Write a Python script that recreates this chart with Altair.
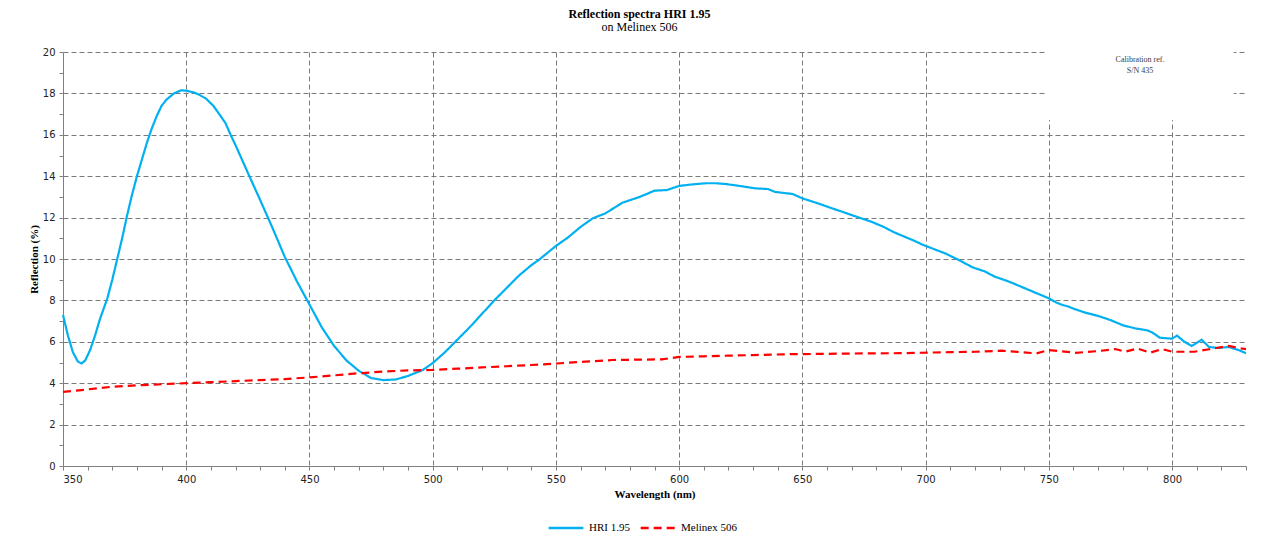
import altair as alt
import pandas as pd

# HRI 1.95 reflection spectrum (wavelength nm, reflection %)
hri_wl = [350, 352, 354, 356, 357.5, 359, 361, 363, 365, 368, 370, 372, 374, 376, 378, 380,
          382, 384, 386, 388, 390, 392, 395, 398, 400, 403, 405, 408, 411, 414, 416, 418, 420,
          423, 426, 430, 435, 440, 445, 450, 455, 460, 465, 470, 475, 480, 485, 490, 496, 500,
          505, 510, 515, 520, 525, 530, 535, 540, 543, 550, 555, 560, 565, 570, 577, 584, 590,
          595, 600, 605, 611, 615, 619, 624, 631, 636, 639, 646, 650, 656, 662, 667, 672, 678,
          683, 687, 692, 695, 699, 704, 708, 713.5, 719, 724, 728, 734, 738, 742, 746, 750, 753,
          755, 758, 760, 765, 770, 775, 780, 785, 790, 792, 795, 800, 802, 805, 808, 812, 815,
          819, 823, 827, 830]
hri_val = [7.3, 6.3, 5.5, 5.05, 4.95, 5.1, 5.6, 6.3, 7.1, 8.1, 9.0, 10.0, 11.0, 12.1, 13.1, 14.0,
           14.8, 15.6, 16.3, 16.9, 17.4, 17.7, 18.0, 18.15, 18.13, 18.05, 17.95, 17.75, 17.4, 16.9,
           16.55, 16.0, 15.5, 14.7, 13.9, 12.85, 11.5, 10.1, 8.9, 7.8, 6.7, 5.8, 5.1, 4.6, 4.25,
           4.15, 4.18, 4.35, 4.64, 4.97, 5.5, 6.1, 6.7, 7.35, 8.0, 8.6, 9.2, 9.7, 9.95, 10.63,
           11.05, 11.55, 11.97, 12.2, 12.72, 13.0, 13.3, 13.33, 13.53, 13.6, 13.66, 13.66, 13.62,
           13.54, 13.41, 13.38, 13.24, 13.14, 12.93, 12.7, 12.45, 12.25, 12.04, 11.8, 11.55, 11.3,
           11.05, 10.9, 10.68, 10.45, 10.27, 9.95, 9.6, 9.4, 9.15, 8.9, 8.7, 8.5, 8.3, 8.1, 7.9,
           7.8, 7.7, 7.6, 7.4, 7.25, 7.05, 6.8, 6.65, 6.55, 6.45, 6.2, 6.15, 6.3, 6.0, 5.8, 6.1,
           5.75, 5.7, 5.75, 5.6, 5.45]

# Melinex 506 reflection spectrum
mel_wl = [350, 360, 370, 380, 390, 400, 410, 420, 430, 440, 450, 460, 470, 480, 490, 500, 510,
          520, 530, 540, 550, 562, 573, 585, 593, 600, 610, 620, 630, 645, 660, 675, 690, 698,
          710, 720, 731, 745, 750, 761, 770, 777, 781, 786, 791, 796, 800, 809, 815, 823, 828, 830]
mel_val = [3.58, 3.7, 3.83, 3.9, 3.95, 4.0, 4.05, 4.1, 4.15, 4.2, 4.28, 4.38, 4.48, 4.56, 4.62,
           4.64, 4.7, 4.76, 4.82, 4.88, 4.95, 5.04, 5.12, 5.14, 5.15, 5.27, 5.3, 5.33, 5.36, 5.4,
           5.42, 5.44, 5.45, 5.47, 5.5, 5.52, 5.57, 5.44, 5.6, 5.47, 5.55, 5.65, 5.52, 5.68, 5.47,
           5.65, 5.52, 5.52, 5.64, 5.8, 5.68, 5.65]

series_names = ["HRI 1.95", "Melinex 506"]
series_colors = ["#00B0F0", "#FF0000"]

x_ticks = list(range(350, 831, 10))
y_ticks = [i * 0.5 for i in range(41)]

# calibration note box (data coordinates)
note_x = [749, 825]
note_y = [16.7, 20]
note_text = ["Calibration ref.", "S/N 435"]
note_text_x = 787
note_text_y = [19.62, 19.1]

df = pd.concat([
    pd.DataFrame({"wl": hri_wl, "r": hri_val, "series": series_names[0]}),
    pd.DataFrame({"wl": mel_wl, "r": mel_val, "series": series_names[1]}),
], ignore_index=True)

xscale = alt.Scale(domain=[350, 830], nice=False, zero=False)
yscale = alt.Scale(domain=[0, 20], nice=False)

grid_style = dict(gridColor="#7a7a7a", gridDash=[5, 3], gridWidth=1)

x_axis = alt.Axis(
    title="Wavelength (nm)", values=x_ticks, tickCount=len(x_ticks), format="d",
    labelExpr="datum.value % 50 === 0 ? datum.label : ''", labelOverlap=False,
    gridOpacity={"condition": {"test": "datum.value % 50 === 0 && datum.value > 350", "value": 1}, "value": 0},
    tickSize=4, tickColor="#808080", domainColor="#808080",
    labelFont="DejaVu Sans", labelFontSize=10, labelColor="#222222", labelPadding=4,
    titleFont="Liberation Serif", titleFontSize=11, titleFontWeight="bold", titleColor="#000000",
    titlePadding=4, **grid_style)

y_axis = alt.Axis(
    title="Reflection (%)", values=y_ticks, tickCount=len(y_ticks), format="d",
    labelExpr="datum.value % 2 === 0 ? datum.label : ''", labelOverlap=False,
    gridOpacity={"condition": {"test": "datum.value % 2 === 0 && datum.value > 0", "value": 1}, "value": 0},
    tickSize=4, tickColor="#808080", domainColor="#808080",
    labelFont="DejaVu Sans", labelFontSize=10, labelColor="#222222", labelPadding=4,
    titleFont="Liberation Serif", titleFontSize=11, titleFontWeight="bold", titleColor="#000000",
    titlePadding=3, **grid_style)

box_df = pd.DataFrame({"x": [note_x[0]], "x2": [note_x[1]], "y": [note_y[0]], "y2": [note_y[1]]})
box = alt.Chart(box_df).mark_rect(color="white").encode(
    x=alt.X("x:Q", scale=xscale, axis=x_axis), x2="x2:Q",
    y=alt.Y("y:Q", scale=yscale, axis=y_axis), y2="y2:Q")

note_df = pd.DataFrame({"t": note_text, "x": [note_text_x] * 2, "y": note_text_y})
note = alt.Chart(note_df).mark_text(font="Liberation Serif", fontSize=8, color="#3a3a3a").encode(
    x=alt.X("x:Q", scale=xscale, axis=x_axis), y=alt.Y("y:Q", scale=yscale, axis=y_axis), text="t:N")

legend = alt.Legend(title=None, orient="none", direction="horizontal",
                    legendX=484, legendY=457, symbolType="stroke",
                    symbolSize=1200, symbolStrokeWidth=2.5,
                    labelFont="Liberation Serif", labelFontSize=11,
                    labelColor="#000000", columnPadding=5, labelOffset=4)

lines = alt.Chart(df).mark_line(strokeWidth=2.2).encode(
    x=alt.X("wl:Q", scale=xscale, axis=x_axis),
    y=alt.Y("r:Q", scale=yscale, axis=y_axis),
    color=alt.Color("series:N", scale=alt.Scale(domain=series_names, range=series_colors),
                    legend=legend),
    strokeDash=alt.StrokeDash("series:N", scale=alt.Scale(domain=series_names, range=[[1, 0], [8, 5]]),
                              legend=legend),
    order=alt.Order("wl:Q"),
)

chart = alt.layer(box, note, lines).properties(
    width=1183, height=414,
    title=alt.TitleParams(text="Reflection spectra HRI 1.95", subtitle="on Melinex 506",
                          anchor="middle", dx=-15, font="Liberation Serif", fontSize=12,
                          fontWeight="bold", color="#000000", subtitleFont="Liberation Serif",
                          subtitleFontSize=12, subtitleColor="#000000", subtitlePadding=1, offset=13),
    autosize=alt.AutoSizeParams(type="none"),
    padding={"left": 55, "top": 44, "right": 20, "bottom": 80},
).configure_view(stroke=None).configure_axis(domainWidth=1)

chart.save("out.html", embed_options={"renderer": "svg", "actions": False})
